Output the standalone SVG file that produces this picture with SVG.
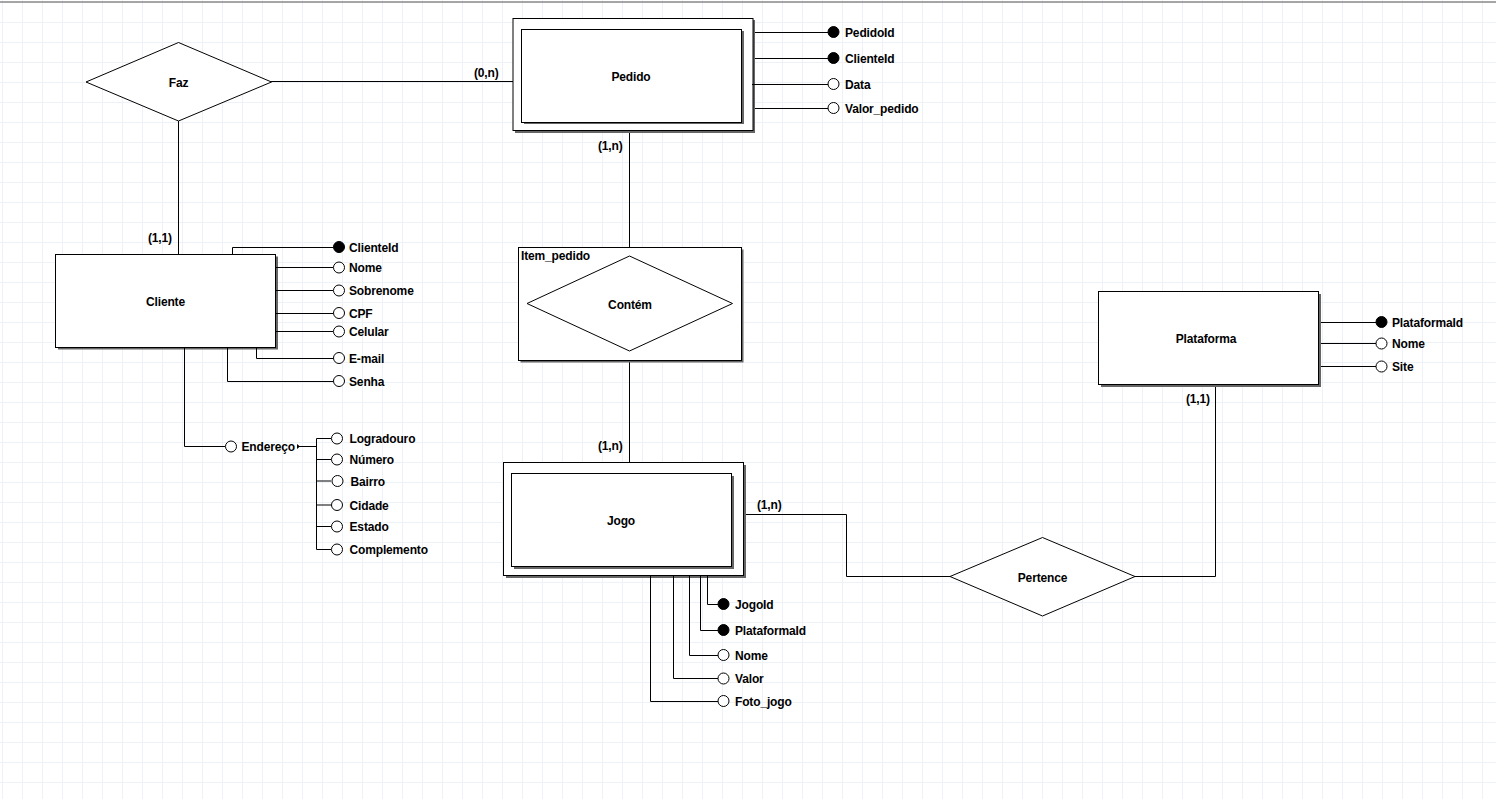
<svg xmlns="http://www.w3.org/2000/svg" width="1496" height="799" viewBox="0 0 1496 799">
<defs>
<pattern id="grid" x="2" y="2" width="20" height="20" patternUnits="userSpaceOnUse">
<path d="M0 0.5H20M0.5 0V20" fill="none" stroke="#edf2f8" stroke-width="1"/>
</pattern>
</defs>
<style>
text{font-family:"Liberation Sans",Arial,sans-serif;font-weight:bold;font-size:12px;fill:#000;letter-spacing:-0.15px}
.c{text-anchor:middle}
.box{fill:#fff;stroke:#000;stroke-width:1}
.sh{fill:#666;stroke:none}
.ln{fill:none;stroke:#000;stroke-width:1}
.ao{fill:#fff;stroke:#000;stroke-width:1}
.af{fill:#000;stroke:#000;stroke-width:1}
</style>
<rect width="1496" height="799" fill="#fff"/>
<rect width="1496" height="799" fill="url(#grid)"/>
<line x1="0" y1="2" x2="1496" y2="2" stroke="#8a8a8a" stroke-width="1.5"/>

<g id="connectors">
<path class="ln" d="M271 81.5H513"/>
<path class="ln" d="M178.5 121V254"/>
<path class="ln" d="M629.5 131V256"/>
<path class="ln" d="M629.5 351V462"/>
<path class="ln" d="M744 514.5H846.5V576.5H950"/>
<path class="ln" d="M1135 576.5H1215.5V385"/>
<text x="474" y="77">(0,n)</text>
<text x="148" y="242">(1,1)</text>
<text x="598" y="150">(1,n)</text>
<text x="598" y="450">(1,n)</text>
<text x="757" y="509">(1,n)</text>
<text x="1186" y="403">(1,1)</text>
</g>

<g id="faz">
<polygon class="box" points="86,82 178.5,42.5 271.5,82 178.5,121"/>
<text class="c" x="178.5" y="87">Faz</text>
</g>

<g id="pedido">
<rect class="sh" x="515" y="20" width="240" height="113"/>
<rect class="box" x="513" y="18.5" width="240" height="112"/>
<rect class="sh" x="524" y="31" width="220" height="93"/>
<rect class="box" x="521.5" y="29.5" width="220" height="93"/>
<text class="c" x="631" y="81">Pedido</text>
</g>

<g id="pedido-attrs">
<path class="ln" d="M755 32.5H828M755 58.5H828M752 84.5H828M755 108.5H828"/>
<circle class="af" cx="833.5" cy="32" r="5.5"/>
<circle class="af" cx="833.5" cy="58" r="5.5"/>
<circle class="ao" cx="833.5" cy="84" r="5.5"/>
<circle class="ao" cx="833.5" cy="108" r="5.5"/>
<text x="845" y="36.5">PedidoId</text>
<text x="845" y="62.5">ClienteId</text>
<text x="845" y="88.5">Data</text>
<text x="845" y="112.5">Valor_pedido</text>
</g>

<g id="cliente">
<rect class="sh" x="58" y="256.5" width="220" height="93"/>
<rect class="box" x="55.5" y="254.5" width="220" height="93"/>
<text class="c" x="165.5" y="306">Cliente</text>
</g>

<g id="cliente-attrs">
<path class="ln" d="M232.5 254V247.5H333M276 267.5H333M276 290.5H333M276 313.5H333M276 331.5H333M256.5 348V358.5H333M227.5 348V381.5H333"/>
<circle class="af" cx="339" cy="247" r="5.5"/>
<circle class="ao" cx="339" cy="267.5" r="5.5"/>
<circle class="ao" cx="339" cy="290.5" r="5.5"/>
<circle class="ao" cx="339" cy="313" r="5.5"/>
<circle class="ao" cx="339" cy="331.5" r="5.5"/>
<circle class="ao" cx="339" cy="358" r="5.5"/>
<circle class="ao" cx="339" cy="381" r="5.5"/>
<text x="349" y="251.5">ClienteId</text>
<text x="349" y="272">Nome</text>
<text x="349" y="295">Sobrenome</text>
<text x="349" y="317.5">CPF</text>
<text x="349" y="336">Celular</text>
<text x="349" y="362.5">E-mail</text>
<text x="349" y="385.5">Senha</text>
</g>

<g id="endereco">
<path class="ln" d="M184.5 348V446.5H225"/>
<circle class="ao" cx="231" cy="446.5" r="5.5"/>
<text x="241.5" y="451">Endereço</text>
<polygon points="297,444 300,446.5 297,449" fill="#000"/>
<path class="ln" d="M299 446.5H316.5M316.5 438.5V549.5M316.5 438.5H331M316.5 459.5H331M316.5 481H331M316.5 505H331M316.5 526.5H331M316.5 549.5H331"/>
<circle class="ao" cx="337" cy="438.5" r="5.5"/>
<circle class="ao" cx="337" cy="459.5" r="5.5"/>
<circle class="ao" cx="337.5" cy="481" r="5.5"/>
<circle class="ao" cx="337" cy="505" r="5.5"/>
<circle class="ao" cx="337" cy="526.5" r="5.5"/>
<circle class="ao" cx="337" cy="549.5" r="5.5"/>
<text x="349.5" y="442.5">Logradouro</text>
<text x="349.5" y="463.5">Número</text>
<text x="350.5" y="485.5">Bairro</text>
<text x="349.5" y="509.5">Cidade</text>
<text x="349.5" y="531">Estado</text>
<text x="349.5" y="554">Complemento</text>
</g>

<g id="item_pedido">
<rect class="sh" x="520.5" y="249.5" width="223" height="113"/>
<rect class="box" x="518.5" y="247.5" width="223" height="113"/>
<polygon class="box" points="527,303.5 629.5,256 732.5,303.5 629.5,351"/>
<text x="521" y="260">Item_pedido</text>
<text class="c" x="630" y="308.5">Contém</text>
</g>

<g id="jogo">
<rect class="sh" x="506" y="465" width="240" height="113"/>
<rect class="box" x="503.5" y="462.5" width="240" height="113"/>
<rect class="sh" x="514" y="476" width="220" height="93"/>
<rect class="box" x="511.5" y="473.5" width="220" height="93"/>
<text class="c" x="621" y="525">Jogo</text>
</g>

<g id="jogo-attrs">
<path class="ln" d="M707.5 576V604.5H718M700.5 576V630.5H718M689.5 576V655.5H718M673.5 576V678.5H718M650.5 576V701.5H718"/>
<circle class="af" cx="723.5" cy="604" r="5.5"/>
<circle class="af" cx="723.5" cy="630" r="5.5"/>
<circle class="ao" cx="723.5" cy="655" r="5.5"/>
<circle class="ao" cx="723.5" cy="678.5" r="5.5"/>
<circle class="ao" cx="723.5" cy="701" r="5.5"/>
<text x="735" y="608.5">JogoId</text>
<text x="735" y="634.5">PlataformaId</text>
<text x="735" y="659.5">Nome</text>
<text x="735" y="683">Valor</text>
<text x="735" y="705.5">Foto_jogo</text>
</g>

<g id="pertence">
<polygon class="box" points="950,576.5 1042.5,537.5 1135,576.5 1042.5,616"/>
<text class="c" x="1042.5" y="582">Pertence</text>
</g>

<g id="plataforma">
<rect class="sh" x="1101" y="294" width="220" height="93"/>
<rect class="box" x="1098.5" y="291.5" width="220" height="93"/>
<text class="c" x="1206" y="343">Plataforma</text>
</g>

<g id="plataforma-attrs">
<path class="ln" d="M1321 322.5H1376M1321 343.5H1376M1321 366.5H1376"/>
<circle class="af" cx="1381.5" cy="322" r="5.5"/>
<circle class="ao" cx="1381.5" cy="343.5" r="5.5"/>
<circle class="ao" cx="1381.5" cy="366.5" r="5.5"/>
<text x="1392" y="326.5">PlataformaId</text>
<text x="1392" y="347.5">Nome</text>
<text x="1392" y="371">Site</text>
</g>
</svg>
